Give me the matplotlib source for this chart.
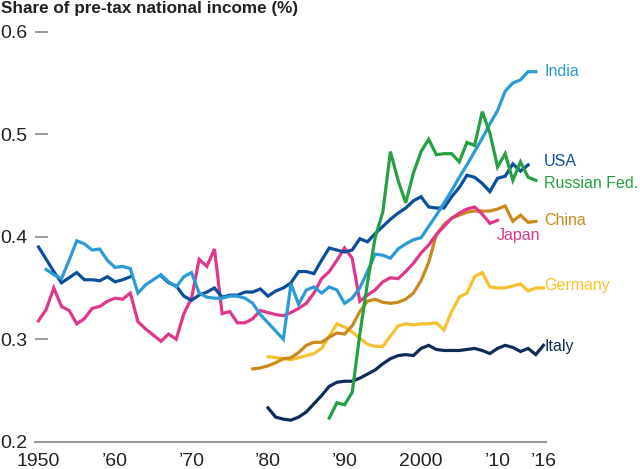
"""
Share of pre-tax national income held by the top 10%, selected countries.
"""

import numpy as np
import matplotlib.pyplot as plt

plt.rcParams["font.family"] = ["Liberation Sans", "DejaVu Sans"]

# ---------------------------------------------------------------------------
# Data
# ---------------------------------------------------------------------------
nan = np.nan

india_start = 1951
india = [0.368, 0.363, 0.359, 0.377, 0.396, 0.393, 0.387, 0.388, 0.377, 0.370,
         0.371, 0.369, 0.345, 0.353, 0.358, 0.363, 0.356, 0.351, 0.361, 0.365,
         0.345, 0.341, 0.340, 0.340, 0.342, 0.342, 0.340, 0.335, 0.324, 0.316,
         0.308, 0.300, 0.354, 0.334, 0.348, 0.351, 0.345, 0.351, 0.348, 0.335,
         0.340, 0.350, 0.366, 0.383, 0.382, 0.379, 0.388, 0.393, 0.397, 0.399,
         0.410, 0.421, 0.433, 0.445, 0.458, 0.470, 0.483, 0.496, 0.510, 0.523,
         0.542, 0.550, 0.553, 0.561, 0.561]

usa_start = 1950
usa = [0.390, 0.378, 0.366, 0.355, 0.360, 0.365, 0.358, 0.358, 0.357, 0.361,
       0.356, 0.358, 0.361, nan, nan, nan, 0.362, 0.355, 0.352, 0.342,
       0.338, 0.343, 0.346, 0.350, 0.341, 0.343, 0.343, 0.346, 0.346, 0.349,
       0.342, 0.347, 0.350, 0.355, 0.366, 0.366, 0.364, 0.377, 0.389, 0.387,
       0.385, 0.387, 0.398, 0.395, 0.403, 0.410, 0.417, 0.423, 0.428, 0.435,
       0.439, 0.429, 0.428, 0.428, 0.439, 0.448, 0.460, 0.458, 0.452, 0.444,
       0.457, 0.459, 0.471, 0.464, 0.470]

japan_start = 1950
japan = [0.318, 0.329, 0.350, 0.332, 0.328, 0.315, 0.320, 0.330, 0.332, 0.337,
         0.340, 0.339, 0.345, 0.317, 0.310, 0.304, 0.298, 0.305, 0.300, 0.325,
         0.340, 0.378, 0.371, 0.388, 0.325, 0.327, 0.316, 0.316, 0.320, 0.328,
         0.326, 0.324, 0.323, 0.326, 0.330, 0.335, 0.345, 0.359, 0.366, 0.377,
         0.389, 0.379, 0.337, 0.343, 0.348, 0.356, 0.360, 0.359, 0.366, 0.374,
         0.384, 0.392, 0.402, 0.410, 0.418, 0.423, 0.427, 0.429, 0.422, 0.413,
         0.416]

china_start = 1978
china = [0.271, 0.272, 0.274, 0.277, 0.281, 0.282, 0.287, 0.294, 0.297, 0.297,
         0.302, 0.306, 0.305, 0.313, 0.327, 0.337, 0.339, 0.336, 0.335, 0.336,
         0.339, 0.345, 0.357, 0.375, 0.402, 0.412, 0.418, 0.421, 0.424, 0.425,
         0.425, 0.425, 0.427, 0.430, 0.415, 0.421, 0.414, 0.415]

germany_start = 1980
germany = [0.283, 0.282, 0.281, 0.280, 0.282, 0.284, 0.286, 0.291, 0.303, 0.315,
           0.312, 0.307, 0.301, 0.295, 0.293, 0.293, 0.303, 0.313, 0.315, 0.314,
           0.315, 0.315, 0.316, 0.309, 0.327, 0.341, 0.345, 0.361, 0.365, 0.351,
           0.350, 0.350, 0.352, 0.354, 0.347, 0.350, 0.350]

italy_start = 1980
italy = [0.233, 0.224, 0.222, 0.221, 0.224, 0.229, 0.237, 0.245, 0.254, 0.258,
         0.259, 0.259, 0.262, 0.266, 0.270, 0.276, 0.281, 0.284, 0.285, 0.284,
         0.291, 0.294, 0.290, 0.289, 0.289, 0.289, 0.290, 0.291, 0.289, 0.286,
         0.291, 0.294, 0.292, 0.288, 0.291, 0.285, 0.294]

russia_start = 1988
russia = [0.223, 0.238, 0.236, 0.248, 0.305, 0.355, 0.399, 0.424, 0.483, 0.455,
          0.433, 0.462, 0.483, 0.495, 0.480, 0.481, 0.481, 0.473, 0.492, 0.489,
          0.522, 0.501, 0.468, 0.481, 0.455, 0.473, 0.458, 0.455]

# name, start year, values, colour, label y, label x  (drawing order = z order)
SERIES = [
    ("Italy", italy_start, italy, "#0e2c57", 0.293, 2016.1),
    ("Germany", germany_start, germany, "#f6c12e", 0.352, 2016.1),
    ("China", china_start, china, "#c98a1d", 0.416, 2016.1),
    ("Japan", japan_start, japan, "#e0368c", 0.401, 2009.95),
    ("USA", usa_start, usa, "#0b4f9c", 0.473, 2016.1),
    ("India", india_start, india, "#2b9ad5", 0.561, 2016.1),
    ("Russian Fed.", russia_start, russia, "#25a043", 0.452, 2016.1),
]

x_ticks = [1950, 1960, 1970, 1980, 1990, 2000, 2010, 2016]
x_tick_labels = ["1950", "\u201960", "\u201970", "\u201980", "\u201990",
                 "2000", "\u201910", "\u201916"]
y_ticks = [0.2, 0.3, 0.4, 0.5, 0.6]
y_tick_labels = ["0.2", "0.3", "0.4", "0.5", "0.6"]

# ---------------------------------------------------------------------------
# Plot
# ---------------------------------------------------------------------------
fig = plt.figure(figsize=(6.4, 4.69), dpi=100)
ax = fig.add_axes([0.0542, 0.0582, 0.7997, 0.8742])

for name, start, vals, color, ly, lx in SERIES:
    years = np.arange(start, start + len(vals))
    ax.plot(years, vals, color=color, linewidth=2.3, solid_joinstyle="miter",
            clip_on=False)
    ax.text(lx, ly, name, color=color, fontsize=11.5, ha="left", va="center")

ax.set_xlim(1949.5, 2016.4)
ax.set_ylim(0.2, 0.6)

ax.set_xticks(x_ticks)
ax.set_xticklabels(x_tick_labels)
ax.set_yticks(y_ticks)
ax.set_yticklabels(y_tick_labels)

ax.tick_params(axis="x", length=0, pad=8, labelsize=14, labelcolor="#222222")
ax.tick_params(axis="y", direction="in", length=9, width=1.4, color="#9a9a9a",
               pad=5, labelsize=14, labelcolor="#222222")

for side in ["top", "right", "left"]:
    ax.spines[side].set_visible(False)
ax.spines["bottom"].set_color("#9a9a9a")
ax.spines["bottom"].set_linewidth(1.5)

fig.text(0.002, 0.997, "Share of pre-tax national income (%)", fontsize=12.3,
         fontweight="bold", color="#222222", ha="left", va="top")

fig.savefig("out.png", dpi=100)
